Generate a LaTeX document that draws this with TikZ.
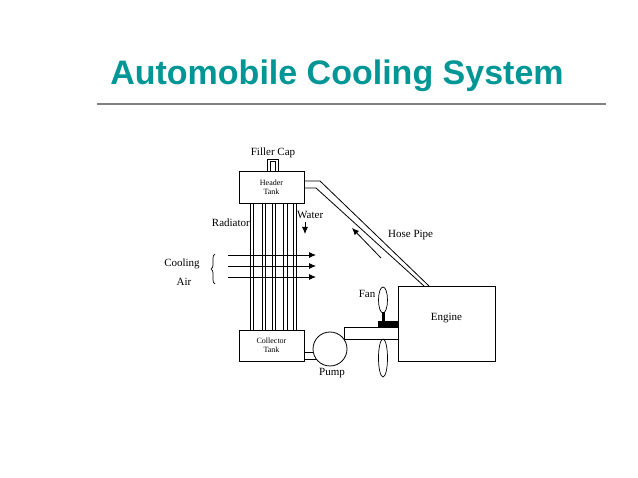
\documentclass[tikz,border=0pt]{standalone}
\usepackage{fontspec}
\setmainfont{Liberation Serif}
\newfontfamily\titlefont{Liberation Sans}
\usetikzlibrary{decorations.pathreplacing,arrows.meta}
\definecolor{titleteal}{RGB}{0,150,150}
\begin{document}
\begin{tikzpicture}[x=1pt,y=-1pt,
  box/.style={draw,line width=0.8pt},
  lbl/.style={font=\fontsize{11}{12}\selectfont,inner sep=0pt},
  small/.style={font=\fontsize{8}{9}\selectfont,align=center,inner sep=0pt},
  tube/.style={line width=0.9pt},
  arr/.style={line width=0.8pt,-{Latex[length=7pt,width=6pt]}}]
\useasboundingbox[fill=white] (0,0) rectangle (638,478);
\node[font=\titlefont\bfseries\fontsize{34}{36}\selectfont,text=titleteal,anchor=base] (title) at (337,85) {Automobile Cooling System};
\draw[gray,line width=1.2pt] (97,104) coordinate (rl) -- (606,104) coordinate (rr);
% tanks
\node[box,minimum width=65pt,minimum height=32pt,anchor=north west,inner sep=0pt] (header) at (239,171) {};
\node[small] at (271.5,187) {Header\\Tank};
\node[box,minimum width=65pt,minimum height=31pt,anchor=north west,inner sep=0pt] (collector) at (239,330) {};
\node[small] at (271.5,345) {Collector\\Tank};
% filler cap
\draw[line width=0.7pt] (267,171) -- (267,159) -- (278,159) -- (278,171);
\draw[line width=0.7pt] (270,171) -- (270,161) -- (275,161) -- (275,171);
\node[lbl,anchor=south] (filler) at (273,158) {Filler Cap};
% tubes
\foreach \x in {250,253,262,265,272,275,283,287,293,296}
  \draw[tube] (\x,203) -- (\x,330);
% hose pipe
\draw[line width=0.8pt] (header.east |- 0,181) -- (320,181) -- (429,286);
\draw[line width=0.8pt] (header.east |- 0,188) -- (316,188) -- (424,286);
% engine
\node[box,minimum width=97pt,minimum height=75pt,anchor=north west,inner sep=0pt] (engine) at (398,286) {};
\node[lbl] at (446.5,318) {Engine};
% labels
\node[lbl,anchor=east] (rad) at (250,223) {Radiator};
\node[lbl,anchor=west] (water) at (297,215) {Water};
\draw[arr] (305,222) -- (305,234);
\node[lbl,anchor=west] (hose) at (388,235) {Hose Pipe};
\draw[arr] (381,258) -- (352,228);
% cooling air
\foreach \y in {255,266,277} \draw[arr] (228,\y) -- (316,\y);
\draw[line width=0.7pt,decorate,decoration={brace,amplitude=4pt}] (215,284) -- (215,254);
\node[lbl] (cool) at (182,264) {Cooling};
\node[lbl] (air) at (184,282) {Air};
% pump
\draw[line width=0.8pt] (304,352) -- (316,352);
\draw[line width=0.8pt] (304,359) -- (318,359);
\node[draw,circle,line width=0.8pt,minimum size=34pt,inner sep=0pt,fill=white] (pump) at (330,349) {};
\node[lbl] at (332,373) {Pump};
% shaft
\draw[line width=0.8pt,fill=white] (344,327) rectangle (398,339);
\fill (378,321) rectangle (398,328);
% fan
\draw[line width=0.7pt] (383,300) ellipse (4.5 and 13);
\draw[line width=0.7pt] (383,358) ellipse (4.5 and 19);
\fill (381.5,312) rectangle (385,322);
\node[lbl] (fan) at (367,294) {Fan};
\end{tikzpicture}
\end{document}
